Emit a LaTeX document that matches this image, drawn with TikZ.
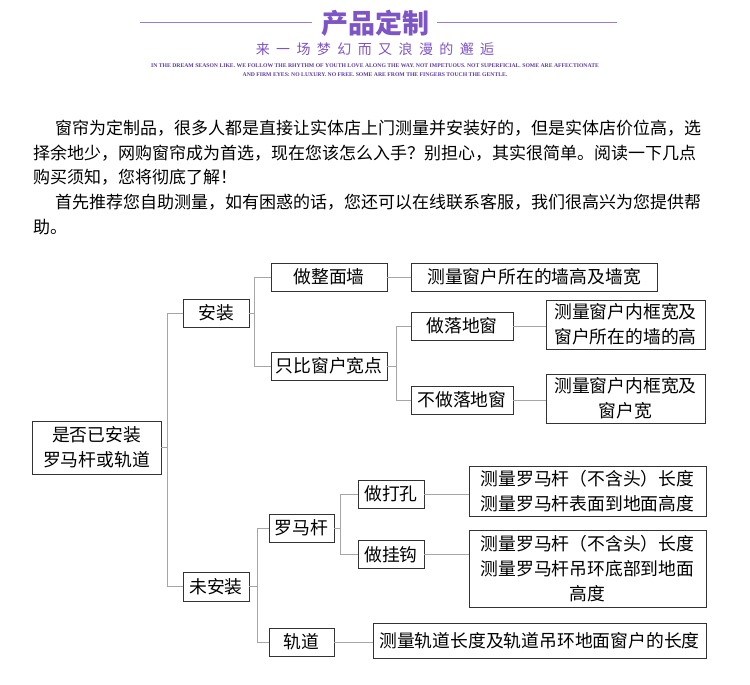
\documentclass[tikz,border=0pt]{standalone}
\usepackage{fontspec}
\setmainfont{Liberation Serif}
\newfontfamily\cjk{Noto Sans CJK SC}
\usetikzlibrary{calc}
\definecolor{titlepurple}{HTML}{7E55C4}
\definecolor{linepurple}{HTML}{9A7AD6}
\definecolor{inkpurple}{HTML}{5B3A9E}
\tikzset{box/.style={draw=black!80,line width=0.8pt,inner sep=0pt,align=center,font=\cjk\fontsize{17.8}{25}\selectfont,minimum height=28pt}, link/.style={draw=black!35,line width=0.8pt}, para/.style={anchor=west,inner sep=0pt,font=\cjk\fontsize{17}{20}\selectfont}, eng/.style={inner sep=0pt,text=inkpurple,font=\bfseries\fontsize{5.7}{6}\selectfont}}

\begin{document}
\begin{tikzpicture}[x=1pt,y=-1pt]
\useasboundingbox (0,0) rectangle (750,685);
% header
\node[text=titlepurple,inner sep=0pt,font=\cjk\bfseries\fontsize{27}{29}\selectfont] (title) at (375,23) {产品定制};
\draw[linepurple,line width=1pt] (140,23) -- (312,23) (437,23) -- (617,23);
\node[text=titlepurple,inner sep=0pt,font=\cjk\fontsize{14}{16}\selectfont] (slogan) at (375,49) {来\hspace{6.4pt}一\hspace{6.4pt}场\hspace{6.4pt}梦\hspace{6.4pt}幻\hspace{6.4pt}而\hspace{6.4pt}又\hspace{6.4pt}浪\hspace{6.4pt}漫\hspace{6.4pt}的\hspace{6.4pt}邂\hspace{6.4pt}逅};
\node[eng] (en1) at (375,66) {IN THE DREAM SEASON LIKE. WE FOLLOW THE RHYTHM OF YOUTH LOVE ALONG THE WAY. NOT IMPETUOUS. NOT SUPERFICIAL. SOME ARE AFFECTIONATE};
\node[eng] (en2) at (375,75) {AND FIRM EYES: NO LUXURY. NO FREE. SOME ARE FROM THE FINGERS TOUCH THE GENTLE.};
% intro text
\node[para] (p1) at (55,128) {窗帘为定制品，很多人都是直接让实体店上门测量并安装好的，但是实体店价位高，选};
\node[para] (p2) at (33,153) {择余地少，网购窗帘成为首选，现在您该怎么入手？别担心，其实很简单。阅读一下几点};
\node[para] (p3) at (33,177) {购买须知，您将彻底了解！};
\node[para] (p4) at (55,202) {首先推荐您自助测量，如有困惑的话，您还可以在线联系客服，我们很高兴为您提供帮};
\node[para] (p5) at (33,227) {助。};
% tree
\node[box,minimum width=129pt,minimum height=53pt] (root) at (96.5,447.5) {是否已安装\\罗马杆或轨道};
\node[box,minimum width=66pt] (az) at (216,313) {安装};
\node[box,minimum width=66pt,minimum height=29pt] (waz) at (216,586.5) {未安装};
\node[box,minimum width=116pt] (zmq) at (329,277) {做整面墙};
\node[box,minimum width=116pt] (zbk) at (329,366) {只比窗户宽点};
\node[box,minimum width=246pt] (r1) at (534,277) {测量窗户所在的墙高及墙宽};
\node[box,minimum width=102pt] (ld) at (462,326) {做落地窗};
\node[box,minimum width=102pt] (bld) at (462,400) {不做落地窗};
\node[box,minimum width=159pt,minimum height=49pt] (r2) at (625.5,324.5) {测量窗户内框宽及\\窗户所在的墙的高};
\node[box,minimum width=159pt,minimum height=49pt] (r3) at (625.5,398.5) {测量窗户内框宽及\\窗户宽};
\node[box,minimum width=65pt] (lmg) at (301.5,528) {罗马杆};
\node[box,minimum width=65pt] (gd) at (301.5,642) {轨道};
\node[box,minimum width=66pt] (dk) at (391,494) {做打孔};
\node[box,minimum width=66pt] (gg) at (391,554.5) {做挂钩};
\node[box,minimum width=237pt,minimum height=50pt] (r4) at (587.5,491) {测量罗马杆（不含头）长度\\测量罗马杆表面到地面高度};
\node[box,minimum width=237pt,minimum height=77pt] (r5) at (587.5,568.5) {测量罗马杆（不含头）长度\\测量罗马杆吊环底部到地面\\高度};
\node[box,minimum width=333pt,minimum height=35pt] (r6) at (539.5,640.5) {测量轨道长度及轨道吊环地面窗户的长度};
% junctions
\coordinate (j0) at (167,0);
\coordinate (j1) at (254,0);
\coordinate (j2) at (396,0);
\coordinate (j3) at (257,0);
\coordinate (j4) at (340,0);
\draw[link] (root.east) -- (root.east -| j0);
\draw[link] (az.west) -- (az.west -| j0) |- (waz.west);
\draw[link] (az.east) -- (az.east -| j1);
\draw[link] (zmq.west) -- (zmq.west -| j1) |- (zbk.west);
\draw[link] (zmq.east) -- (zmq.east -| r1.west);
\draw[link] (zbk.east) -- (zbk.east -| j2);
\draw[link] (ld.west) -- (ld.west -| j2) |- (bld.west);
\draw[link] (ld.east) -- (ld.east -| r2.west);
\draw[link] (bld.east) -- (bld.east -| r3.west);
\draw[link] (waz.east) -- (waz.east -| j3);
\draw[link] (lmg.west) -- (lmg.west -| j3) |- (gd.west);
\draw[link] (lmg.east) -- (lmg.east -| j4);
\draw[link] (dk.west) -- (dk.west -| j4) |- (gg.west);
\draw[link] (dk.east) -- (dk.east -| r4.west);
\draw[link] (gg.east) -- (gg.east -| r5.west);
\draw[link] (gd.east) -- (gd.east -| r6.west);
\end{tikzpicture}
\end{document}
